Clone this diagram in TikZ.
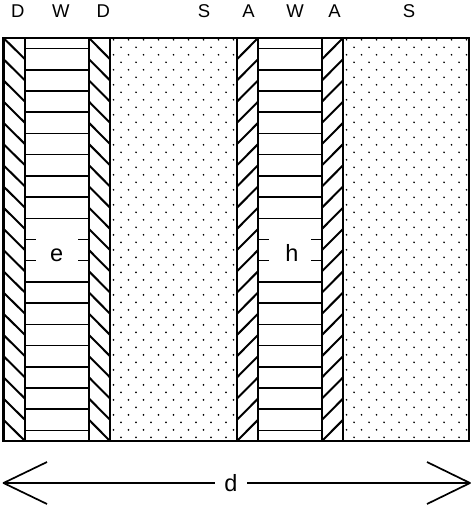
\documentclass[tikz,border=0pt]{standalone}
\usepackage{fontspec}
\setmainfont{Liberation Sans}
\begin{document}
\begin{tikzpicture}[x=1pt,y=-1pt,
  border/.style={line width=2.4pt},
  wline/.style={line width=1.5pt},
  hatchline/.style={line width=2pt},
  arrowline/.style={line width=1.7pt, line join=round},
  toplabel/.style={font=\fontsize{18.5}{20}\selectfont, anchor=base, inner sep=0pt},
  biglabel/.style={font=\fontsize{23.5}{26}\selectfont, anchor=base, inner sep=0pt}]
\useasboundingbox (0,0) rectangle (474,508);
\fill[white] (0,0) rectangle (474,508);
\def\hh{21.2105}
% stipple dots in the S layers
\foreach \xl in {110,343}{
  \foreach \j in {0,2,...,52}{
    \foreach \i in {0,...,8}{ \fill ({\xl+3.5+15*\i},{39.8+7.5*\j}) circle (0.95pt); } }
  \foreach \j in {1,3,...,53}{
    \foreach \i in {0,...,7}{ \fill ({\xl+11+15*\i},{39.8+7.5*\j}) circle (0.95pt); } }
}
% D layers: hatching "\"
\foreach \xl/\xr in {3.5/25,89/110}{
  \begin{scope}
    \clip (\xl,38) rectangle (\xr,441);
    \foreach \k in {0,...,18}{
      \draw[hatchline] ({\xl-3},{38+\hh*\k-3}) -- ({\xr+3},{38+\hh*(\k+1)+3}); }
  \end{scope}
}
% A layers: hatching "/"
\foreach \xl/\xr in {237/258,322/343}{
  \begin{scope}
    \clip (\xl,38) rectangle (\xr,441);
    \foreach \k in {0,...,18}{
      \draw[hatchline] ({\xl-3},{38+\hh*(\k+1)+3}) -- ({\xr+3},{38+\hh*\k-3}); }
  \end{scope}
}
% W layers: horizontal lines
\foreach \xl/\xr in {25/89,258/322}{
  \foreach \k in {0,1,2,3,4,5,6,7,8,11,12,13,14,15,16,17,18}{
    \draw[wline] (\xl,{48.6+\hh*\k}) -- (\xr,{48.6+\hh*\k}); }
  \foreach \k in {9,10}{
    \draw[wline] (\xl,{48.6+\hh*\k}) -- ({\xl+11},{48.6+\hh*\k});
    \draw[wline] ({\xr-11},{48.6+\hh*\k}) -- (\xr,{48.6+\hh*\k}); }
}
% borders
\draw[border] (3.5,38) rectangle (469,441);
\foreach \x in {25,89,110,237,258,322,343}{
  \draw[border] (\x,38) -- (\x,441); }
% labels
\node[toplabel] (lD1) at (17.8,17.3) {D};
\node[toplabel] (lW1) at (60.8,17.3) {W};
\node[toplabel] (lD2) at (103.3,17.3) {D};
\node[toplabel] (lS1) at (204,17.3) {S};
\node[toplabel] (lA1) at (248.5,17.3) {A};
\node[toplabel] (lW2) at (295,17.3) {W};
\node[toplabel] (lA2) at (334.5,17.3) {A};
\node[toplabel] (lS2) at (409,17.3) {S};
\node[biglabel] (le) at (56.7,261.7) {e};
\node[biglabel] (lh) at (292,261.7) {h};
% dimension arrow
\node[font=\fontsize{23.5}{26}\selectfont, inner xsep=9.5pt, inner ysep=0pt] (ld) at (231,483) {d};
\coordinate (AL) at (3.5,483);
\coordinate (AR) at (470,483);
\coordinate (ALu) at (47,462);
\coordinate (ALd) at (47,504);
\coordinate (ARu) at (427,462);
\coordinate (ARd) at (427,504);
\draw[arrowline] (AL) -- (ld.west);
\draw[arrowline] (ld.east) -- (AR);
\draw[arrowline] (ALu) -- (AL) -- (ALd);
\draw[arrowline] (ARu) -- (AR) -- (ARd);
\end{tikzpicture}
\end{document}
